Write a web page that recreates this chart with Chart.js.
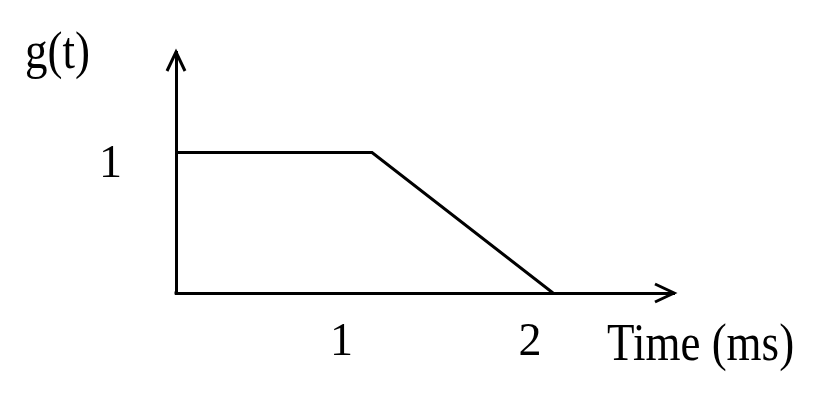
<!DOCTYPE html>
<html>
<head>
<meta charset="utf-8">
<script src="https://cdn.jsdelivr.net/npm/chart.js@4.4.1/dist/chart.umd.min.js"></script>
<style>
  html, body { margin: 0; padding: 0; background: #ffffff; }
  #wrap { width: 828px; height: 410px; }
</style>
</head>
<body>
<div id="wrap"><canvas id="c" width="828" height="410"></canvas></div>
<script>
// ---- data ----
const timeValues = [0, 1.04, 2];      // t (ms)
const gValues = [1, 1, 0];            // g(t)
const xTickValues = [1, 2];
const xTickLabels = ['1', '2'];
const yTickValues = [1];
const yTickLabels = ['1'];
const xAxisTitle = 'Time (ms)';
const yAxisTitle = 'g(t)';
const xMax = 2.642;
const yMax = 1.715;

const FONT = '"Liberation Serif", "Times New Roman", serif';

const arrowPlugin = {
  id: 'axisArrows',
  afterDraw(chart) {
    const ctx = chart.ctx;
    const xs = chart.scales.x, ys = chart.scales.y;
    const x0 = xs.getPixelForValue(0);
    const y0 = ys.getPixelForValue(0);
    const xEnd = xs.getPixelForValue(xMax);
    const yEnd = ys.getPixelForValue(yMax);
    ctx.save();
    ctx.strokeStyle = '#000';
    ctx.lineWidth = 3;
    ctx.lineJoin = 'miter';
    ctx.lineCap = 'butt';
    // y axis arrowhead
    ctx.beginPath();
    ctx.moveTo(x0 - 9, yEnd + 19);
    ctx.lineTo(x0, yEnd);
    ctx.lineTo(x0 + 9, yEnd + 19);
    ctx.stroke();
    // x axis arrowhead
    ctx.beginPath();
    ctx.moveTo(xEnd - 19, y0 - 9);
    ctx.lineTo(xEnd, y0);
    ctx.lineTo(xEnd - 19, y0 + 9);
    ctx.stroke();
    // corner square
    ctx.fillStyle = '#000';
    ctx.fillRect(x0 - 1.5, y0 - 1.5, 3, 3);
    // axis titles
    ctx.fillStyle = '#000';
    ctx.font = '45px ' + FONT;
    ctx.textBaseline = 'alphabetic';
    ctx.textAlign = 'left';
    ctx.save();
    ctx.translate(x0 - 151, yEnd + 16);
    ctx.scale(1, 1.15);
    ctx.fillText(yAxisTitle, 0, 0);
    ctx.restore();
    ctx.save();
    ctx.translate(xEnd - 67, y0 + 67);
    ctx.scale(1, 1.15);
    ctx.fillText(xAxisTitle, 0, 0);
    ctx.restore();
    ctx.restore();
  }
};

new Chart(document.getElementById('c'), {
  type: 'line',
  data: {
    datasets: [{
      data: timeValues.map((t, i) => ({ x: t, y: gValues[i] })),
      borderColor: '#000',
      borderWidth: 3,
      pointRadius: 0,
      tension: 0,
      fill: false
    }]
  },
  options: {
    responsive: false,
    animation: false,
    events: [],
    layout: { padding: { left: 0, top: 52, right: 154, bottom: 0 } },
    plugins: { legend: { display: false }, tooltip: { enabled: false }, title: { display: false } },
    scales: {
      x: {
        type: 'linear',
        min: 0,
        max: xMax,
        grid: { display: false, drawTicks: false },
        border: { display: true, color: '#000', width: 3 },
        afterBuildTicks: (s) => { s.ticks = xTickValues.map(v => ({ value: v })); },
        afterFit: (s) => { s.height = 117; s.paddingLeft = 0; s.paddingRight = 0; },
        ticks: {
          color: '#000',
          font: { family: FONT, size: 46 },
          padding: 22,
          labelOffset: -23,
          maxRotation: 0,
          autoSkip: false,
          callback: (v) => xTickLabels[xTickValues.indexOf(v)]
        }
      },
      y: {
        type: 'linear',
        min: 0,
        max: yMax,
        grid: { display: false, drawTicks: false },
        border: { display: true, color: '#000', width: 3 },
        afterBuildTicks: (s) => { s.ticks = yTickValues.map(v => ({ value: v })); },
        afterFit: (s) => { s.width = 176; s.paddingTop = 0; s.paddingBottom = 0; },
        ticks: {
          color: '#000',
          font: { family: FONT, size: 46 },
          padding: 54,
          labelOffset: 12,
          autoSkip: false,
          callback: (v) => yTickLabels[yTickValues.indexOf(v)]
        }
      }
    }
  },
  plugins: [arrowPlugin]
});
</script>
</body>
</html>
